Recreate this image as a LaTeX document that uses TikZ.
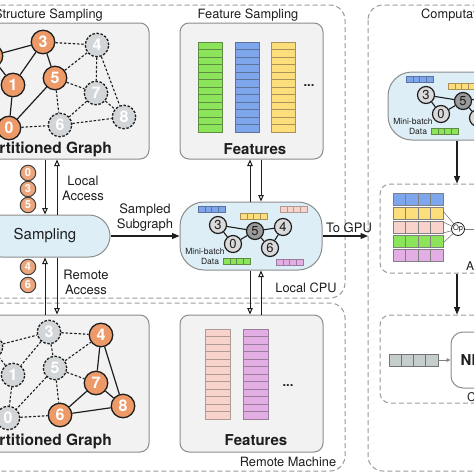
\documentclass[tikz,border=0pt]{standalone}
\usepackage{fontspec}
\setmainfont{TeX Gyre Heros}
\usetikzlibrary{arrows.meta,calc}
\definecolor{ink}{HTML}{1E1E1E}
\definecolor{orN}{HTML}{EE9A68}
\definecolor{orS}{HTML}{EDA67B}
\definecolor{grN}{HTML}{D2D6D8}
\definecolor{panel}{HTML}{F2F2F3}
\definecolor{pedge}{HTML}{8C8C8C}
\definecolor{lblue}{HTML}{DDEEF7}
\definecolor{oboxc}{HTML}{9A9A9A}
\definecolor{fgreen}{HTML}{8CE45A}\definecolor{dgreen}{HTML}{5E8C44}
\definecolor{fblue}{HTML}{7EA6EC}\definecolor{dblue}{HTML}{5E739C}
\definecolor{fyellow}{HTML}{FCDF7C}\definecolor{dyellow}{HTML}{A8925A}
\definecolor{fpink}{HTML}{F8D3CB}\definecolor{dpink}{HTML}{B09A94}
\definecolor{fpurple}{HTML}{E2AEE3}\definecolor{dpurple}{HTML}{9A7C9C}
\definecolor{vgray}{HTML}{C6CDCD}
\definecolor{mnfill}{HTML}{DADADA}
\definecolor{mndark}{HTML}{9A9A9A}
\newcommand{\fs}[1]{\fontsize{#1}{#1}\selectfont}
\newcommand{\featcol}[6]{\foreach \i in {1,...,#4} \draw[fill=#5,draw=#6,line width=0.7pt] (#1,{#2+(\i-1)*7.5}) rectangle ++(#3,7.5);}
\newcommand{\mbbar}[4]{\foreach \i in {0,...,3} \draw[fill=#3,draw=#4,line width=0.6pt] ({#1+\i*6.8},{#2-2.8}) rectangle ++(6.8,5.6);}
\newcommand{\mbcontent}[1]{%
  \mbbar{198}{209}{fblue}{dblue}
  \mbbar{240}{216}{fyellow}{dyellow}
  \mbbar{280}{209}{fpink}{dpink}
  \mbbar{223}{261}{fgreen}{dgreen}
  \mbbar{276}{262}{fpurple}{dpurple}
  \node[mn] (#1n3) at (218,225) {3};
  \node[mn,fill=mndark] (#1n5) at (255,231) {5};
  \node[mn] (#1n4) at (283,227) {4};
  \node[mn] (#1n0) at (233,244) {0};
  \node[mn] (#1n6) at (270,248) {6};
  \draw[me] (#1n3)--(#1n5) (#1n3)--(#1n0) (#1n0)--(#1n5) (#1n5)--(#1n4) (#1n5)--(#1n6) (#1n4)--(#1n6);
  \node[txt,font=\fs{8.5},anchor=base] (#1mb) at (205,254) {Mini-batch};
  \node[txt,font=\fs{8.5},anchor=base] (#1dt) at (210,264) {Data};
}
\begin{document}
\begin{tikzpicture}[x=1pt,y=-1pt,
  txt/.style={inner sep=0pt,text=ink},
  gn/.style={circle,minimum size=23.5pt,inner sep=0pt,line width=1.3pt,draw=ink,font=\fs{16}\bfseries,text=white},
  on/.style={gn,fill=orN},
  rn/.style={gn,fill=grN,dash pattern=on 2.5pt off 1.6pt},
  se/.style={draw=ink,line width=1.2pt},
  de/.style={draw=ink,line width=1.1pt,dash pattern=on 2.5pt off 1.8pt},
  sc/.style={circle,minimum size=15.5pt,inner sep=0pt,fill=orS,draw=ink!85,line width=1pt,font=\fs{11}\bfseries,text=white},
  mn/.style={circle,minimum size=17pt,inner sep=0pt,fill=mnfill,draw=ink,line width=1.2pt,font=\fs{13},text=ink},
  me/.style={draw=ink,line width=1.1pt},
  pnl/.style={draw=pedge,fill=panel,line width=1pt,rounded corners=9pt,inner sep=0pt},
  obox/.style={draw=oboxc,line width=1pt,dash pattern=on 5pt off 3pt,rounded corners=15pt},
  ibox/.style={draw=oboxc,line width=1pt,dash pattern=on 5pt off 3pt,rounded corners=10pt,inner sep=0pt},
  oarr/.style={draw=ink,line width=1pt,-{Triangle[open,length=6.5pt,width=5.5pt]}},
  farr/.style={draw=ink,line width=1.1pt,-{Triangle[length=7.5pt,width=6pt]}},
  garr/.style={draw=gray,line width=0.7pt,-{Triangle[length=4pt,width=3.5pt]}}
]
\path[use as bounding box] (0,0) rectangle (474,474);
\clip (0,0) rectangle (474,474);
\fill[white] (0,0) rectangle (474,474);

% outer dashed regions
\draw[obox] (-20,5) rectangle (345,298);
\draw[obox] (-20,303) rectangle (345,471);
\draw[obox] (368,5) rectangle (530,471);

% titles
\node[txt,font=\fs{12.8},anchor=base east] (t1) at (103,18) {Structure Sampling};
\node[txt,font=\fs{12.8},anchor=base] (t2) at (248,18) {Feature Sampling};
\node[txt,font=\fs{12.8},anchor=base west] (t3) at (421,18) {Computation};
\node[txt,font=\fs{12.8},anchor=base] (lcpu) at (306,292) {Local CPU};
\node[txt,font=\fs{12.8},anchor=base] (rmach) at (288,466.5) {Remote Machine};

% graph panels
\node[pnl,minimum width=169pt,minimum height=136pt] (gT) at (64.5,91) {};
\node[pnl,minimum width=169pt,minimum height=137pt] (gB) at (64.5,383.5) {};
% feature panels
\node[pnl,minimum width=143pt,minimum height=136pt] (fT) at (251.5,91) {};
\node[pnl,minimum width=143pt,minimum height=137pt] (fB) at (251.5,383.5) {};

% top graph
\node[on] (a2) at (-9,56) {2};
\node[on] (a3) at (43,42) {3};
\node[rn] (a4) at (97,45) {4};
\node[on] (a1) at (13,85) {1};
\node[on] (a5) at (55,78) {5};
\node[rn] (a7) at (96,93) {7};
\node[rn] (a8) at (124,117) {8};
\node[rn] (a6) at (60,125) {6};
\node[on] (a0) at (9,128) {0};
\draw[se] (a2)--(a3) (a2)--(a1) (a3)--(a1) (a3)--(a5) (a1)--(a0) (a5)--(a0);
\draw[de] (a3)--(a4) (a5)--(a4) (a5)--(a7) (a5)--(a6) (a4)--(a7) (a4)--(a8) (a7)--(a8) (a7)--(a6) (a6)--(a8) (a0)--(a6);
\node[txt,font=\fs{15.5}\bfseries,anchor=base east] (pgT) at (112,153) {Partitioned Graph};

% bottom graph
\node[rn] (b2) at (-9,347) {2};
\node[rn] (b3) at (49,332) {3};
\node[on] (b4) at (101,335) {4};
\node[rn] (b1) at (13,375) {1};
\node[rn] (b5) at (55,368) {5};
\node[on] (b7) at (96,383) {7};
\node[on] (b8) at (123,406) {8};
\node[on] (b6) at (60,415) {6};
\node[rn] (b0) at (8,418) {0};
\draw[se] (b4)--(b7) (b4)--(b8) (b7)--(b8) (b7)--(b6) (b6)--(b8);
\draw[de] (b2)--(b3) (b2)--(b1) (b3)--(b1) (b3)--(b5) (b3)--(b4) (b1)--(b0) (b5)--(b0) (b5)--(b4) (b5)--(b7) (b5)--(b6) (b0)--(b6);
\node[txt,font=\fs{15.5}\bfseries,anchor=base east] (pgB) at (112,445.5) {Partitioned Graph};

% feature columns
\featcol{198}{42}{24}{12}{fgreen}{dgreen}
\featcol{235}{42}{24}{12}{fblue}{dblue}
\featcol{271}{42}{24}{12}{fyellow}{dyellow}
\node[txt,font=\fs{13}\bfseries] (dotsT) at (309,86) {...};
\node[txt,font=\fs{15}\bfseries,anchor=base] (ftT) at (255,154) {Features};
\featcol{205}{329}{25}{12}{fpink}{dpink}
\featcol{243}{329}{25}{12}{fpurple}{dpurple}
\node[txt,font=\fs{13}\bfseries] (dotsB) at (288,386) {...};
\node[txt,font=\fs{15}\bfseries,anchor=base] (ftB) at (256,445) {Features};

% sampling
\node[draw=pedge,fill=lblue,line width=1pt,rounded corners=21pt,minimum width=130pt,minimum height=42pt,inner sep=0pt,font=\fs{15},text=ink] (samp) at (45,236) {Sampling};

% stacks of sampled node ids
\node[sc] (s0) at (28,173) {0};
\node[sc] (s3) at (28,189) {3};
\node[sc] (s5) at (28,205) {5};
\node[sc] (s4) at (28,267) {4};
\node[sc] (s6) at (28,285) {6};

% access arrows
\coordinate (cA) at (45,0);
\coordinate (cB) at (57,0);
\draw[oarr] (gT.south -| cA) -- (samp.north -| cA);
\draw[oarr] (samp.north -| cB) -- (gT.south -| cB);
\draw[oarr] (gB.north -| cA) -- (samp.south -| cA);
\draw[oarr] (samp.south -| cB) -- (gB.north -| cB);
\node[txt,font=\fs{13},anchor=base] (la1) at (83,185) {Local};
\node[txt,font=\fs{13},anchor=base] (la2) at (83,200) {Access};
\node[txt,font=\fs{13},anchor=base] (ra1) at (86,279) {Remote};
\node[txt,font=\fs{13},anchor=base] (ra2) at (86,294) {Access};

% mini-batch
\node[draw=pedge,fill=lblue,line width=1pt,rounded corners=24pt,minimum width=142pt,minimum height=68pt,inner sep=0pt] (mb) at (251,236) {};
\mbcontent{p}
\draw[farr] (samp.east) -- (mb.west);
\node[txt,font=\fs{13},anchor=base] (ss1) at (145,213) {Sampled};
\node[txt,font=\fs{13},anchor=base] (ss2) at (145,228) {Subgraph};

\coordinate (cC) at (250,0);
\coordinate (cD) at (261,0);
\draw[oarr] (mb.north -| cC) -- (fT.south -| cC);
\draw[oarr] (fT.south -| cD) -- (mb.north -| cD);
\draw[oarr] (mb.south -| cC) -- (fB.north -| cC);
\draw[oarr] (fB.north -| cD) -- (mb.south -| cD);

% to GPU
\coordinate (compL) at (368,236);
\draw[farr] (mb.east) -- (compL);
\node[txt,font=\fs{13},anchor=base] (tgpu) at (349,232.5) {To GPU};

% computation side
\node[draw=pedge,fill=lblue,line width=1pt,rounded corners=24pt,minimum width=142pt,minimum height=68pt,inner sep=0pt] (mbc) at (459,106) {};
\begin{scope}[shift={(208,-130)}]
\mbcontent{q}
\end{scope}
\coordinate (cE) at (457,0);
\node[ibox,minimum width=120pt,minimum height=89pt] (agg) at (440,228.5) {};
\node[ibox,minimum width=120pt,minimum height=88pt] (comb) at (440,359) {};
\draw[farr] (mbc.south -| cE) -- (agg.north -| cE);
\draw[farr] (agg.south -| cE) -- (comb.north -| cE);

\foreach \c/\d [count=\r from 0] in {fblue/dblue,fyellow/dyellow,fpink/dpink,fgreen/dgreen,fpurple/dpurple}
  \foreach \k in {0,...,3}
    \draw[fill=\c,draw=gray,line width=0.6pt] ({393+\k*12.5},{193.5+\r*14}) rectangle ++(12.5,11.5);
\node[circle,draw=ink,line width=0.8pt,minimum size=13pt,inner sep=0pt,fill=white,font=\fs{7.5},text=ink] (op) at (458,229) {Op};
\coordinate (m1) at (443,211);
\coordinate (m2) at (443,222);
\coordinate (m3) at (443,233);
\coordinate (m4) at (443,243);
\draw[gray,line width=0.6pt] (m1)--(op) (m2)--(op) (m3)--(op) (m4)--(op);
\coordinate (opR) at (480,229);
\draw[gray,line width=0.6pt] (op)--(opR);
\node[txt,font=\fs{12},anchor=base west] (aggl) at (466,270) {Aggregation};

\foreach \k in {0,...,3}
  \draw[fill=vgray,draw=gray!90!black,line width=0.7pt] ({389+\k*12.25},354) rectangle ++(12.25,12);
\coordinate (vecR) at (438,360);
\node[draw=pedge,fill=white,line width=1pt,rounded corners=12pt,minimum width=70pt,minimum height=56pt,inner sep=0pt] (nn) at (486,360) {};
\draw[garr] (vecR) -- (nn.west);
\node[txt,font=\fs{15}\bfseries,anchor=west] (nnl) at ($(nn.west)+(10,0)$) {NN};
\node[txt,font=\fs{12},anchor=base west] (combl) at (467,401) {Combination};
\end{tikzpicture}
\end{document}
